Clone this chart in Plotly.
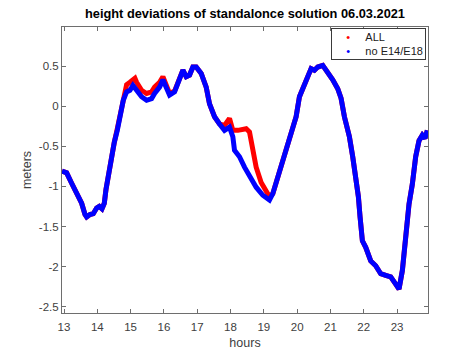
import plotly.graph_objects as go

# ---- data (hours, meters) ----
hours_no = [12.94, 13.08, 13.23, 13.38, 13.53, 13.63, 13.68, 13.78, 13.88, 13.98,
            14.06, 14.14, 14.21, 14.26, 14.34, 14.44, 14.51, 14.60, 14.68, 14.78,
            14.88, 14.98, 15.07, 15.18, 15.33, 15.48, 15.63, 15.72, 15.87, 15.97,
            16.07, 16.17, 16.32, 16.47, 16.57, 16.67, 16.77, 16.87, 16.97, 17.12,
            17.27, 17.37, 17.52, 17.67, 17.82, 17.97, 18.07, 18.12, 18.27, 18.42,
            18.57, 18.77, 18.97, 19.17, 19.27, 19.42, 19.57, 19.72, 19.87, 19.97,
            20.07, 20.22, 20.32, 20.42, 20.52, 20.62, 20.77, 20.92, 21.07, 21.22,
            21.32, 21.42, 21.57, 21.67, 21.77, 21.84, 21.89, 21.96, 22.06, 22.21,
            22.36, 22.51, 22.66, 22.81, 22.96, 23.06, 23.16, 23.26, 23.36, 23.46,
            23.56, 23.66, 23.76, 23.84, 23.91]
dev_no = [-0.81, -0.83, -0.96, -1.08, -1.21, -1.35, -1.38, -1.35, -1.34, -1.27,
          -1.25, -1.28, -1.21, -1.04, -0.83, -0.58, -0.45, -0.30, -0.13, 0.075,
          0.18, 0.20, 0.26, 0.20, 0.12, 0.075, 0.096, 0.16, 0.24, 0.33,
          0.22, 0.14, 0.18, 0.35, 0.45, 0.37, 0.39, 0.49, 0.49, 0.41,
          0.24, 0.03, -0.13, -0.22, -0.30, -0.26, -0.38, -0.55, -0.63, -0.76,
          -0.88, -1.01, -1.11, -1.17, -1.09, -0.88, -0.68, -0.47, -0.30, -0.13,
          0.12, 0.28, 0.35, 0.47, 0.45, 0.49, 0.51, 0.43, 0.33, 0.22,
          0.10, -0.13, -0.38, -0.63, -0.88, -1.13, -1.38, -1.68, -1.76, -1.93,
          -1.99, -2.09, -2.11, -2.13, -2.22, -2.28, -2.05, -1.63, -1.22, -0.97,
          -0.63, -0.43, -0.36, -0.40, -0.30]

hours_all = [12.94, 13.08, 13.23, 13.38, 13.53, 13.63, 13.68, 13.78, 13.88, 13.98,
             14.06, 14.14, 14.21, 14.26, 14.34, 14.44, 14.51, 14.60, 14.68, 14.78,
             14.88, 14.98, 15.07, 15.13, 15.18, 15.33, 15.48, 15.63, 15.72, 15.87,
             15.97, 16.07, 16.17, 16.32, 16.47, 16.57, 16.67, 16.77, 16.87, 16.97,
             17.12, 17.27, 17.37, 17.52, 17.67, 17.82, 17.97, 18.07, 18.22, 18.47,
             18.57, 18.67, 18.77, 18.92, 19.07, 19.17, 19.27, 19.42, 19.57, 19.72,
             19.87, 19.97, 20.07, 20.22, 20.32, 20.42, 20.52, 20.62, 20.77, 20.92,
             21.07, 21.22, 21.32, 21.42, 21.57, 21.67, 21.77, 21.84, 21.89, 21.96,
             22.06, 22.21, 22.36, 22.51, 22.66, 22.81, 22.96, 23.06, 23.16, 23.26,
             23.36, 23.46, 23.56, 23.66, 23.76, 23.84, 23.91]
dev_all = [-0.81, -0.83, -0.96, -1.08, -1.21, -1.35, -1.38, -1.35, -1.34, -1.27,
           -1.25, -1.28, -1.21, -1.04, -0.83, -0.58, -0.45, -0.28, -0.10, 0.12,
           0.27, 0.30, 0.33, 0.35, 0.30, 0.20, 0.16, 0.18, 0.24, 0.30,
           0.37, 0.26, 0.16, 0.19, 0.36, 0.45, 0.37, 0.39, 0.49, 0.49,
           0.41, 0.24, 0.03, -0.13, -0.22, -0.24, -0.15, -0.30, -0.30, -0.28,
           -0.32, -0.55, -0.76, -0.95, -1.07, -1.13, -1.09, -0.88, -0.68, -0.47,
           -0.30, -0.13, 0.12, 0.28, 0.35, 0.47, 0.45, 0.49, 0.51, 0.43,
           0.33, 0.22, 0.10, -0.13, -0.38, -0.63, -0.88, -1.13, -1.38, -1.68,
           -1.76, -1.93, -1.99, -2.09, -2.11, -2.13, -2.22, -2.28, -2.05, -1.63,
           -1.22, -0.97, -0.63, -0.43, -0.36, -0.40, -0.30]

series_names = ["ALL", "no E14/E18"]
x_ticks = [13, 14, 15, 16, 17, 18, 19, 20, 21, 22, 23]
y_ticks = [-2.5, -2, -1.5, -1, -0.5, 0, 0.5]
y_ticklabels = ["-2.5", "-2", "-1.5", "-1", "-0.5", "0", "0.5"]

RED = "#ff0000"
BLUE = "#0000ff"
AX = "#6e6e6e"
TXT = "#404040"
FONT = "Liberation Sans, Arial, Helvetica, sans-serif"

fig = go.Figure()
fig.add_trace(go.Scatter(x=hours_all, y=dev_all, mode="lines", name=series_names[0],
                         line=dict(color=RED, width=5), showlegend=False))
fig.add_trace(go.Scatter(x=hours_no, y=dev_no, mode="lines", name=series_names[1],
                         line=dict(color=BLUE, width=5), showlegend=False))

# compact MATLAB-style legend box (dot marker + label per series)
sp = "&nbsp;"
legend_text = "<br>".join(
    f"{sp*4}<span style='color:{c}'>•</span>{sp*5}{n}"
    for c, n in zip([RED, BLUE], series_names))
fig.add_annotation(xref="paper", yref="paper", x=0.9945, y=0.997,
                   xanchor="right", yanchor="top", align="left", showarrow=False,
                   text=legend_text, bgcolor="white", bordercolor="#3a3a3a",
                   borderwidth=1, borderpad=2,
                   font=dict(family=FONT, size=11, color="#202020"))

fig.update_layout(
    width=474, height=352,
    margin=dict(l=62, r=46, t=27, b=39),
    paper_bgcolor="white", plot_bgcolor="white",
    showlegend=False,
    font=dict(family=FONT, size=11.5, color=TXT),
    title=dict(text="<b>height deviations of standalonce solution 06.03.2021</b>",
               x=(62 + 428) / 2 / 474, xanchor="center", y=1 - 14 / 352, yanchor="middle",
               font=dict(family=FONT, size=12.8, color="#000000")),
    xaxis=dict(range=[12.94, 23.93], tickvals=x_ticks, ticks="inside", ticklen=4,
               tickcolor=AX, showline=True, linecolor=AX, linewidth=1, mirror="ticks",
               showgrid=False, zeroline=False, ticklabelstandoff=3, automargin=False,
               title=dict(text="hours", font=dict(size=12.5, color=TXT), standoff=6)),
    yaxis=dict(range=[-2.58, 0.99], tickvals=y_ticks, ticktext=y_ticklabels,
               ticks="inside", ticklen=4, tickcolor=AX, showline=True, linecolor=AX,
               linewidth=1, mirror="ticks", showgrid=False, zeroline=False,
               automargin=False,
               title=dict(text="meters", font=dict(size=12.5, color=TXT), standoff=4)),
)

fig.write_html("out.html")
